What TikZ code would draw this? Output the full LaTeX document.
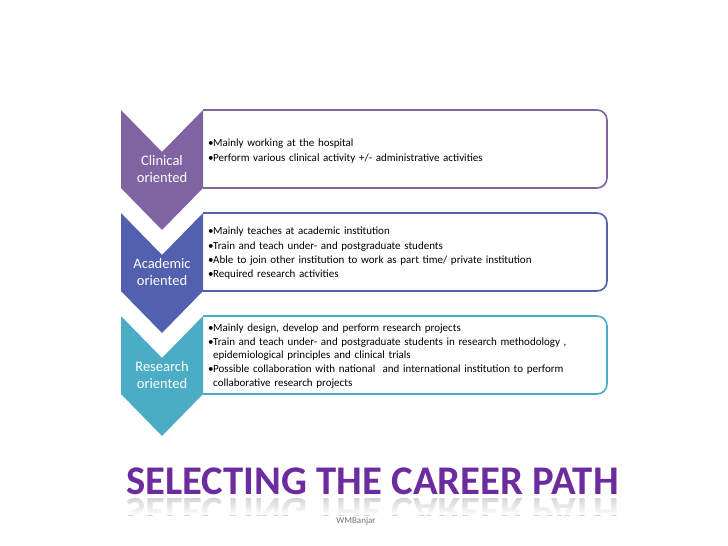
\documentclass[tikz,border=0pt]{standalone}
\usepackage{fontspec}
\setmainfont{Carlito}
\usetikzlibrary{fadings}
\definecolor{clin}{RGB}{128,100,162}
\definecolor{acad}{RGB}{82,96,175}
\definecolor{resr}{RGB}{75,172,198}
\definecolor{ttl}{RGB}{108,44,160}
\newcommand{\bitem}[1]{\hangindent=5pt\hangafter=1\noindent\makebox[5pt][l]{\textbullet}#1\par}
\tikzset{
  chev/.style={fill=#1},
  infobox/.style={draw=#1, line width=1.6pt},
  chevtext/.style={text=white, align=center, font=\fontsize{14.5}{17.5}\selectfont},
  listtext/.style={anchor=west, text width=395pt, align=left, inner sep=0pt, font=\fontsize{11}{14.3}\selectfont},
  titletext/.style={anchor=base, font=\fontsize{40.7}{41}\selectfont\bfseries}
}
\begin{document}
\begin{tikzpicture}[x=1pt,y=1pt]
    \useasboundingbox[fill=white] (0,0) rectangle (728,-546);
    % three rows: box first, chevron on top
    \foreach \t/\c in {110/clin,213/acad,316/resr}{
      \path[infobox=\c] (203,-\t) -- (597,-\t) arc[start angle=90,end angle=0,radius=10]
        -- (607,-\t-68) arc[start angle=0,end angle=-90,radius=10] -- (203,-\t-78);
      \path[chev=\c] (121,-\t) -- (162,-\t-42) -- (203,-\t) -- (203,-\t-78)
        -- (162,-\t-120) -- (121,-\t-78) -- cycle;
    }

    \node[chevtext] (clinical) at (162,-169) {Clinical\\oriented};
    \node[chevtext] (academic) at (162,-272) {Academic\\oriented};
    \node[chevtext] (research) at (162,-375) {Research\\oriented};

    \node[listtext, font=\fontsize{11}{15}\selectfont] (clinical-list) at (208,-151) {%
      \bitem{Mainly working at the hospital}
      \bitem{Perform various clinical activity +/- administrative activities}};
    \node[listtext] (academic-list) at (208,-253.5) {%
      \bitem{Mainly teaches at academic institution}
      \bitem{Train and teach under- and postgraduate students}
      \bitem{Able to join other institution to work as part time/ private institution}
      \bitem{Required research activities}};
    \node[listtext, font=\fontsize{11}{13.6}\selectfont] (research-list) at (208,-356) {%
      \bitem{Mainly design, develop and perform research projects}
      \bitem{Train and teach under- and postgraduate students in research methodology ,\newline epidemiological principles and clinical trials}
      \bitem{Possible collaboration with national~ and international institution to perform\newline collaborative research projects}};

    \node[titletext, text=ttl] (title) at (372.5,-494) {SELECTING THE CAREER PATH};
    \begin{scope}
      \clip (110,-497) rectangle (630,-515);
      \node[titletext, text=ttl!15!black!18, yscale=-1] (title-mirror) at (372.5,-498) {SELECTING THE CAREER PATH};
      \fill[white, path fading=north] (110,-497) rectangle (630,-515);
    \end{scope}

    \node[font=\fontsize{9}{9}\selectfont, text=black!55] (author) at (356,-521) {WMBanjar};
  \end{tikzpicture}
\end{document}
